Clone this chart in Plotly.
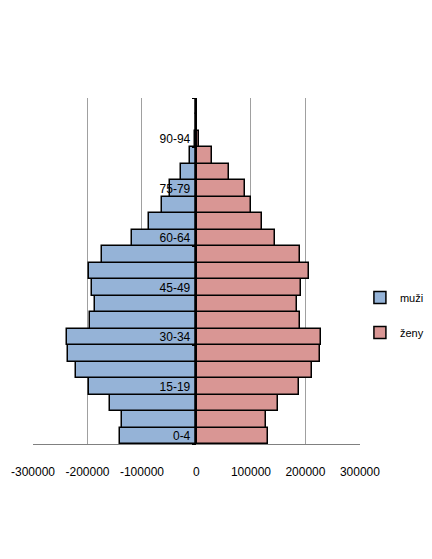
import plotly.graph_objects as go

# vekove skupiny (od nejmladsi)
vek = [
    "0-4", "5-9", "10-14", "15-19", "20-24", "25-29", "30-34",
    "35-39", "40-44", "45-49", "50-54", "55-59", "60-64", "65-69",
    "70-74", "75-79", "80-84", "85-89", "90-94", "95-99", "100+",
]
muzi = [
    140000, 136000, 159000, 198000, 221000, 236000, 237000,
    196000, 187000, 191000, 198000, 173000, 118000, 88000,
    63000, 49000, 28000, 12000, 2500, 600, 100,
]
zeny = [
    132000, 128000, 150000, 189000, 212000, 226000, 228000,
    190000, 185000, 191000, 206000, 190000, 144000, 121000,
    100000, 89000, 60000, 29000, 5500, 1200, 200,
]
x_ticks = [-300000, -200000, -100000, 0, 100000, 200000, 300000]

font = "Liberation Sans Narrow, Arial Narrow, Liberation Sans, Arial, sans-serif"

fig = go.Figure()
fig.add_trace(
    go.Bar(
        name="muži",
        y=vek,
        x=[-v for v in muzi],
        orientation="h",
        marker={"color": "#95B3D7", "line": {"color": "black", "width": 1.5}},
        legendgroup="m",
    )
)
fig.add_trace(
    go.Bar(
        name="ženy",
        y=vek,
        x=zeny,
        orientation="h",
        marker={"color": "#D99694", "line": {"color": "black", "width": 1.5}},
        legendgroup="z",
    )
)

# stranka ma 8px okraj, graf je proto o 8px mensi
fig.update_layout(
    width=424,
    height=551,
    margin={"l": 25, "r": 71, "t": 90, "b": 115},
    barmode="relative",
    bargap=0,
    plot_bgcolor="white",
    paper_bgcolor="white",
    font={"family": font, "size": 12, "color": "black"},
    legend={
        "xref": "container",
        "yref": "container",
        "x": 0.830,
        "xanchor": "left",
        "y": 0.443,
        "yanchor": "middle",
        "tracegroupgap": 16,
        "font": {"size": 11},
        "itemwidth": 30,
    },
)

fig.update_xaxes(
    range=[-300000, 300000],
    tickvals=x_ticks,
    ticktext=[str(v) for v in x_ticks],
    tickangle=0,
    automargin=False,
    showgrid=True,
    gridcolor="#A0A0A0",
    gridwidth=1,
    showline=True,
    linecolor="#808080",
    zeroline=False,
    ticks="",
    ticklabelstandoff=17,
    tickfont={"size": 12},
)

fig.update_yaxes(
    type="category",
    categoryorder="array",
    categoryarray=vek,
    tickmode="linear",
    tick0=0,
    dtick=3,
    anchor="free",
    position=0.5,
    automargin=False,
    showline=True,
    linecolor="black",
    linewidth=1.5,
    ticks="outside",
    tickson="boundaries",
    ticklen=4,
    tickcolor="black",
    ticklabelstandoff=3,
    showgrid=False,
    tickfont={"size": 12},
)

fig.write_html("out.html")
